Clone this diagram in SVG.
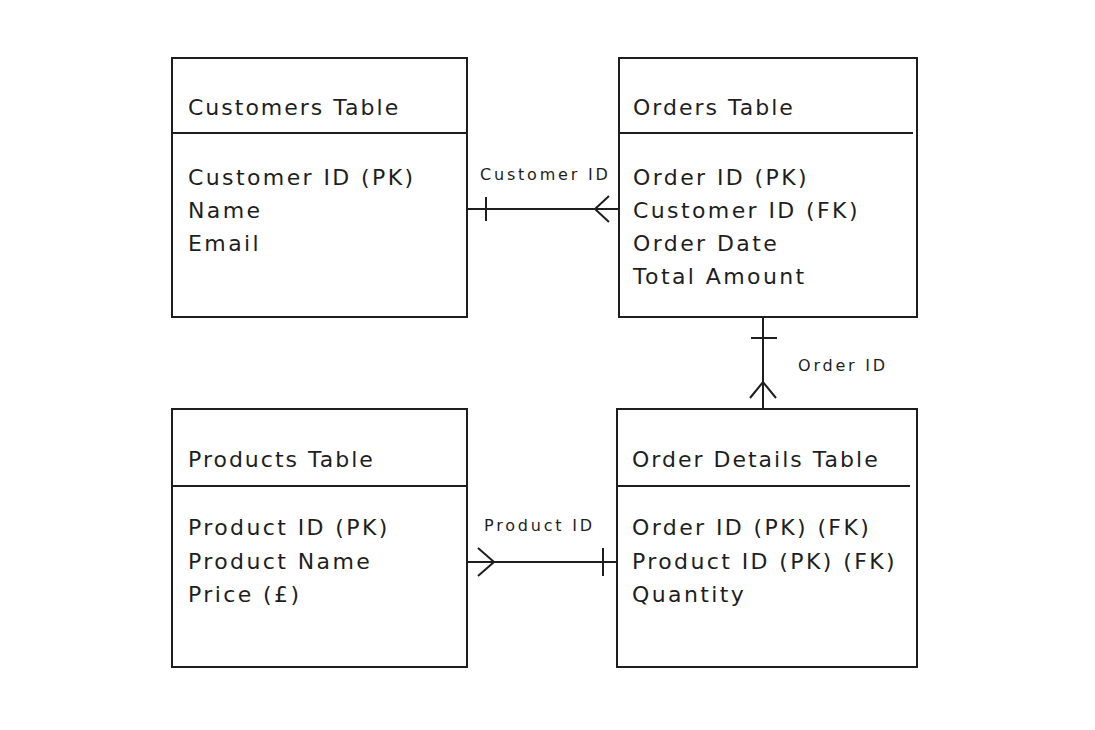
<svg xmlns="http://www.w3.org/2000/svg" width="1095" height="730" viewBox="0 0 1095 730">
<style>
.b{fill:none;stroke:#1e1e1e;stroke-width:2}
.t{font-family:"DejaVu Sans",sans-serif;fill:#1e1e1e;font-size:22px;letter-spacing:2.4px}
.h{letter-spacing:2px}
.l{font-family:"DejaVu Sans",sans-serif;fill:#1e1e1e;font-size:16px;letter-spacing:2.8px}
</style>
<rect width="1095" height="730" fill="#fff"/>
<g id="customers"><rect class="b" x="172" y="58" width="295" height="259"/><line class="b" x1="172" y1="133" x2="467" y2="133"/>
<text class="t h" x="188" y="115">Customers Table</text>
<text class="t" x="188" y="185">Customer ID (PK)</text><text class="t" x="188" y="218">Name</text><text class="t" x="188" y="251">Email</text></g>
<g id="orders"><rect class="b" x="619" y="58" width="298" height="259"/><line class="b" x1="619" y1="133" x2="913" y2="133"/>
<text class="t h" x="633" y="115">Orders Table</text>
<text class="t" x="633" y="185">Order ID (PK)</text><text class="t" x="633" y="218">Customer ID (FK)</text><text class="t" x="633" y="251">Order Date</text><text class="t" x="633" y="284">Total Amount</text></g>
<g id="products"><rect class="b" x="172" y="409" width="295" height="258"/><line class="b" x1="172" y1="486" x2="467" y2="486"/>
<text class="t h" x="188" y="467">Products Table</text>
<text class="t" x="188" y="535">Product ID (PK)</text><text class="t" x="188" y="569">Product Name</text><text class="t" x="188" y="602">Price (£)</text></g>
<g id="orderdetails"><rect class="b" x="617" y="409" width="300" height="258"/><line class="b" x1="617" y1="486" x2="910" y2="486"/>
<text class="t h" x="632" y="467">Order Details Table</text>
<text class="t" x="632" y="535">Order ID (PK) (FK)</text><text class="t" x="632" y="569">Product ID (PK) (FK)</text><text class="t" x="632" y="602">Quantity</text></g>
<g id="connectors">
<path class="b" d="M467 209H619M486 197V221M609 196L595 209L609 222"/>
<text class="l" x="480" y="180">Customer ID</text>
<path class="b" d="M763 317V409M751 338H777M750 398L763 382L776 398"/>
<text class="l" x="798" y="371">Order ID</text>
<path class="b" d="M467 562H617M478 548L494 562L478 576M603 548V576"/>
<text class="l" x="484" y="531">Product ID</text>
</g>
</svg>
